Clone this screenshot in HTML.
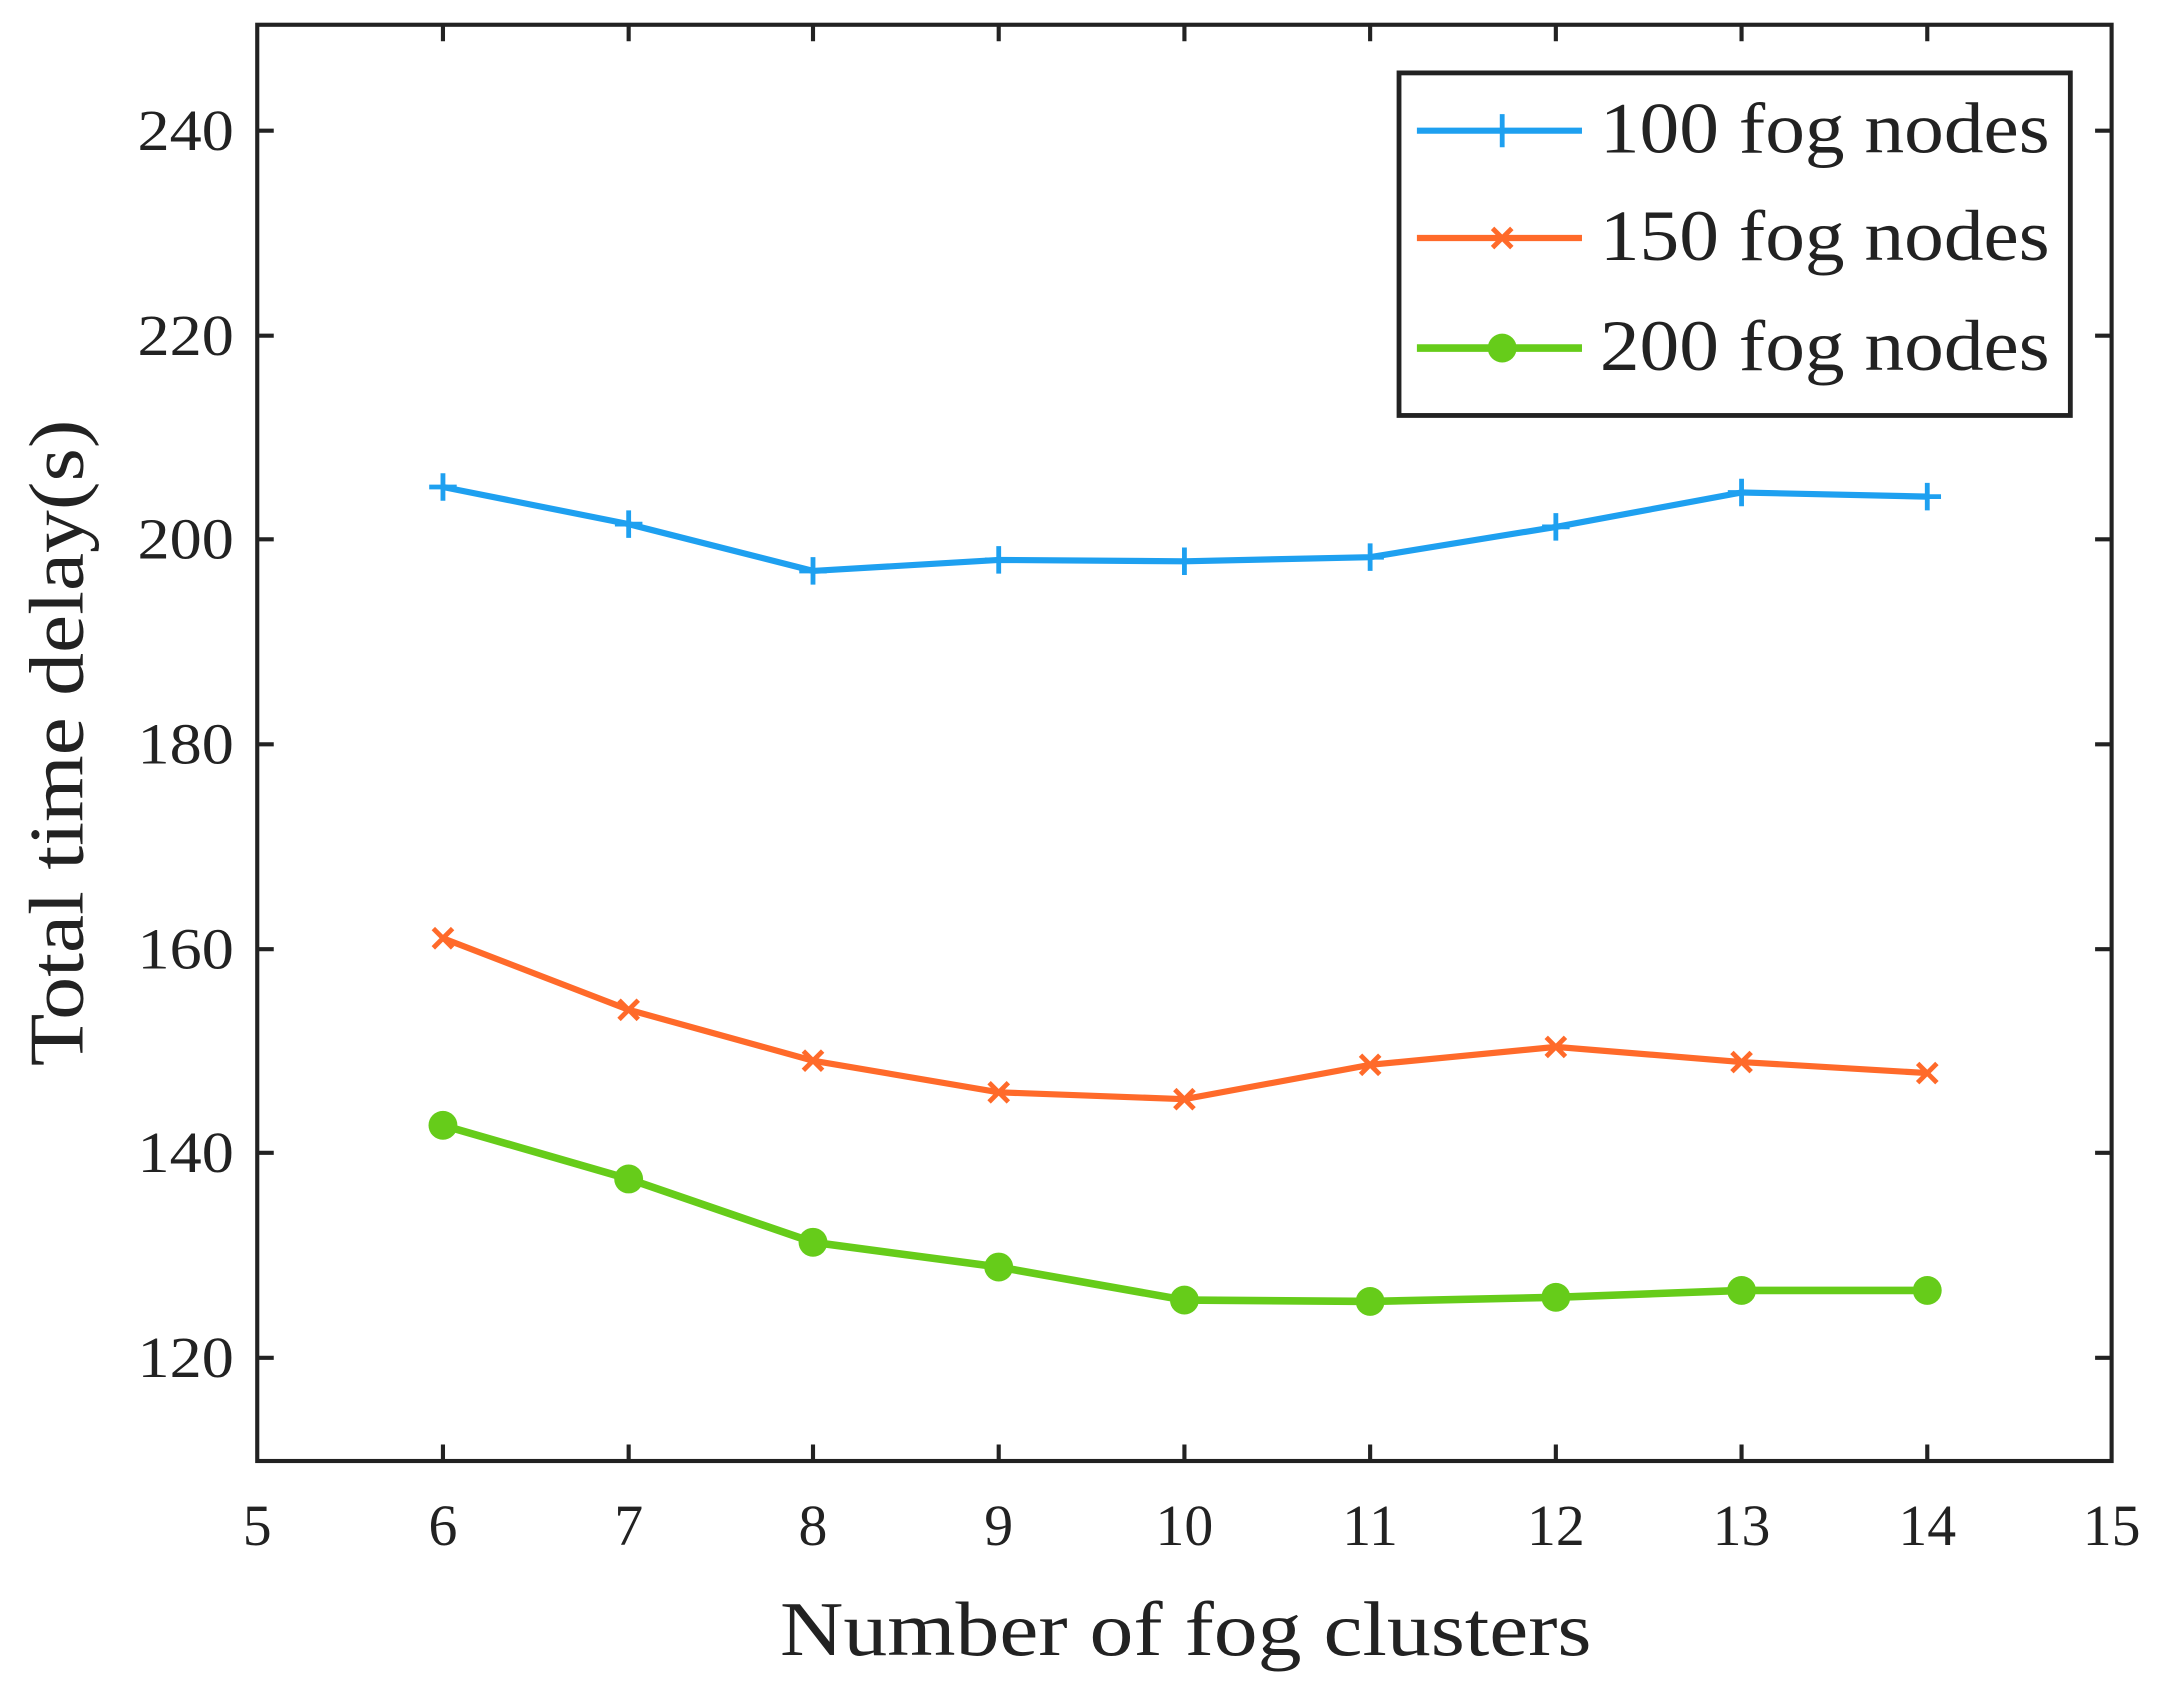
<!DOCTYPE html>
<html><head><meta charset="utf-8"><style>html,body{margin:0;padding:0;background:#fff}svg{display:block}</style></head><body>
<svg width="2157" height="1699" viewBox="0 0 1568 1235" preserveAspectRatio="none" xmlns="http://www.w3.org/2000/svg" font-family="'Liberation Serif', serif" fill="#222">
<rect x="0" y="0" width="1568" height="1235" fill="#fff"/>
<rect x="187" y="18" width="1348" height="1044" fill="none" stroke="#222" stroke-width="3"/>
<g stroke="#222" stroke-width="3">
<path d="M322 1062v-12M457 1062v-12M591 1062v-12M726 1062v-12M861 1062v-12M996 1062v-12M1131 1062v-12M1266 1062v-12M1401 1062v-12"/>
<path d="M322 18v12M457 18v12M591 18v12M726 18v12M861 18v12M996 18v12M1131 18v12M1266 18v12M1401 18v12"/>
<path d="M187 987h12M187 838h12M187 690h12M187 541h12M187 392h12M187 244h12M187 95h12"/>
<path d="M1535 987h-12M1535 838h-12M1535 690h-12M1535 541h-12M1535 392h-12M1535 244h-12M1535 95h-12"/>
</g>
<g font-size="42" text-anchor="end">
<text x="170" y="1001" textLength="70" lengthAdjust="spacingAndGlyphs">120</text><text x="170" y="852" textLength="70" lengthAdjust="spacingAndGlyphs">140</text><text x="170" y="704" textLength="70" lengthAdjust="spacingAndGlyphs">160</text><text x="170" y="555" textLength="70" lengthAdjust="spacingAndGlyphs">180</text><text x="170" y="406" textLength="70" lengthAdjust="spacingAndGlyphs">200</text><text x="170" y="258" textLength="70" lengthAdjust="spacingAndGlyphs">220</text><text x="170" y="109" textLength="70" lengthAdjust="spacingAndGlyphs">240</text>
</g>
<g font-size="42" text-anchor="middle">
<text x="187" y="1123">5</text><text x="322" y="1123">6</text><text x="457" y="1123">7</text><text x="591" y="1123">8</text><text x="726" y="1123">9</text><text x="861" y="1123">10</text><text x="996" y="1123">11</text><text x="1131" y="1123">12</text><text x="1266" y="1123">13</text><text x="1401" y="1123">14</text><text x="1535" y="1123">15</text>
</g>
<text x="567" y="1203" font-size="56" textLength="590" lengthAdjust="spacingAndGlyphs">Number of fog clusters</text>
<text transform="translate(60,775) rotate(-90)" font-size="56" textLength="470" lengthAdjust="spacingAndGlyphs">Total time delay(s)</text>
<polyline fill="none" stroke="#1ea0f0" stroke-width="4.5" points="322,354 457,381 591,415 726,407 861,408 996,405 1131,383 1266,358 1401,361"/>
<g stroke="#1ea0f0" stroke-width="3.5">
<path d="M322 344v20M312 354h20M457 371v20M447 381h20M591 405v20M581 415h20M726 397v20M716 407h20M861 398v20M851 408h20M996 395v20M986 405h20M1131 373v20M1121 383h20M1266 348v20M1256 358h20M1401 351v20M1391 361h20"/>
</g>
<polyline fill="none" stroke="#ff6a2a" stroke-width="4.5" points="322,682 457,734 591,771 726,794 861,799 996,774 1131,761 1266,772 1401,780"/>
<g stroke="#ff6a2a" stroke-width="3.5">
<path d="M315 675l14 14M329 675l-14 14M450 727l14 14M464 727l-14 14M584 764l14 14M598 764l-14 14M719 787l14 14M733 787l-14 14M854 792l14 14M868 792l-14 14M989 767l14 14M1003 767l-14 14M1124 754l14 14M1138 754l-14 14M1259 765l14 14M1273 765l-14 14M1394 773l14 14M1408 773l-14 14"/>
</g>
<polyline fill="none" stroke="#66cc1a" stroke-width="5.5" points="322,818 457,857 591,903 726,921 861,945 996,946 1131,943 1266,938 1401,938"/>
<g fill="#66cc1a">
<circle cx="322" cy="818" r="10.5"/><circle cx="457" cy="857" r="10.5"/><circle cx="591" cy="903" r="10.5"/><circle cx="726" cy="921" r="10.5"/><circle cx="861" cy="945" r="10.5"/><circle cx="996" cy="946" r="10.5"/><circle cx="1131" cy="943" r="10.5"/><circle cx="1266" cy="938" r="10.5"/><circle cx="1401" cy="938" r="10.5"/>
</g>
<rect x="1017" y="53" width="488" height="249" fill="#fff" stroke="#222" stroke-width="3.5"/>
<path d="M1030 95h120" stroke="#1ea0f0" stroke-width="4.5"/><path d="M1092 83v24M1080 95h24" stroke="#1ea0f0" stroke-width="3.5"/>
<path d="M1030 173h120" stroke="#ff6a2a" stroke-width="4.5"/><path d="M1085 166l14 14M1099 166l-14 14" stroke="#ff6a2a" stroke-width="3.5"/>
<path d="M1030 253h120" stroke="#66cc1a" stroke-width="5.5"/><circle cx="1092" cy="253" r="10.5" fill="#66cc1a"/>
<g font-size="52">
<text x="1163" y="111" textLength="327" lengthAdjust="spacingAndGlyphs">100 fog nodes</text>
<text x="1163" y="189" textLength="327" lengthAdjust="spacingAndGlyphs">150 fog nodes</text>
<text x="1163" y="269" textLength="327" lengthAdjust="spacingAndGlyphs">200 fog nodes</text>
</g>
</svg>
</body></html>
